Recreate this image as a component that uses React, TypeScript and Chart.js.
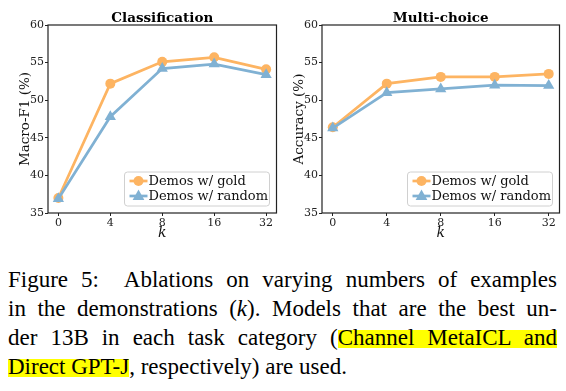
import React, { useEffect, useRef } from "react";
import { Chart, registerables } from "chart.js";

Chart.register(...registerables);

const kLabels = ["0", "4", "8", "16", "32"];
const clsGold = [37.0, 52.2, 55.1, 55.7, 54.1];
const clsRandom = [36.9, 47.8, 54.2, 54.8, 53.4];
const mcGold = [46.4, 52.2, 53.1, 53.1, 53.5];
const mcRandom = [46.3, 51.0, 51.5, 52.0, 51.95];
const yTicks = [35, 40, 45, 50, 55, 60];
const legendLabels = ["Demos w/ gold", "Demos w/ random"];

const ORANGE = "#fdb462";
const BLUE = "#80b1d3";
const SERIF = "'DejaVu Serif', serif";

type PanelProps = {
  title: string;
  yLabel: string;
  gold: number[];
  random: number[];
  yAxisWidth: number;
  yTitlePad: number;
};

function Panel({ title, yLabel, gold, random, yAxisWidth, yTitlePad }: PanelProps) {
  const ref = useRef<HTMLCanvasElement | null>(null);
  useEffect(() => {
    if (!ref.current) return;
    const boxPlugin = {
      id: "boxAndLegend",
      afterDraw(chart: any) {
        const { ctx, chartArea } = chart;
        const { left, right, top, bottom } = chartArea;
        ctx.save();
        // frame
        ctx.strokeStyle = "#222";
        ctx.lineWidth = 1.2;
        ctx.strokeRect(left, top, right - left, bottom - top);
        // title
        ctx.fillStyle = "#000";
        ctx.font = `bold 13.5px ${SERIF}`;
        ctx.textAlign = "center";
        ctx.textBaseline = "alphabetic";
        ctx.fillText(title, (left + right) / 2, 21.7);
        // legend
        const bw = 145, bh = 34;
        const bx = right - 7 - bw;
        const by = bottom - 7 - bh;
        ctx.beginPath();
        const r = 3;
        ctx.moveTo(bx + r, by);
        ctx.arcTo(bx + bw, by, bx + bw, by + bh, r);
        ctx.arcTo(bx + bw, by + bh, bx, by + bh, r);
        ctx.arcTo(bx, by + bh, bx, by, r);
        ctx.arcTo(bx, by, bx + bw, by, r);
        ctx.closePath();
        ctx.fillStyle = "rgba(255,255,255,0.8)";
        ctx.fill();
        ctx.strokeStyle = "#d0d0d0";
        ctx.lineWidth = 1;
        ctx.stroke();
        const rows = [
          { label: legendLabels[0], color: ORANGE, shape: "circle" },
          { label: legendLabels[1], color: BLUE, shape: "triangle" },
        ];
        rows.forEach((row, i) => {
          const cy = by + 9 + i * 15;
          ctx.strokeStyle = row.color;
          ctx.lineWidth = 2.7;
          ctx.beginPath();
          ctx.moveTo(bx + 5, cy);
          ctx.lineTo(bx + 23, cy);
          ctx.stroke();
          ctx.fillStyle = row.color;
          ctx.beginPath();
          const mx = bx + 14;
          if (row.shape === "circle") {
            ctx.arc(mx, cy, 5, 0, Math.PI * 2);
          } else {
            const s = 6.5;
            ctx.moveTo(mx, cy - s);
            ctx.lineTo(mx + s * 0.9, cy + s * 0.6);
            ctx.lineTo(mx - s * 0.9, cy + s * 0.6);
            ctx.closePath();
          }
          ctx.fill();
          ctx.fillStyle = "#111";
          ctx.font = `13px ${SERIF}`;
          ctx.textAlign = "left";
          ctx.textBaseline = "middle";
          ctx.fillText(row.label, bx + 24, cy + 0.5);
        });
        ctx.restore();
      },
    };
    const chart = new Chart(ref.current, {
      type: "line",
      data: {
        datasets: [
          {
            label: legendLabels[0],
            data: gold.map((v, i) => ({ x: i, y: v })),
            borderColor: ORANGE,
            backgroundColor: ORANGE,
            borderWidth: 2.7,
            pointStyle: "circle",
            pointRadius: 5,
            pointBorderWidth: 0,
            order: 1,
          },
          {
            label: legendLabels[1],
            data: random.map((v, i) => ({ x: i, y: v })),
            borderColor: BLUE,
            backgroundColor: BLUE,
            borderWidth: 2.7,
            pointStyle: "triangle",
            pointRadius: 6.5,
            pointBorderWidth: 0,
            order: 0,
          },
        ],
      },
      options: {
        responsive: false,
        animation: false,
        events: [],
        layout: { padding: { left: 0, right: 6, top: 25, bottom: 0 } },
        plugins: { legend: { display: false }, tooltip: { enabled: false }, title: { display: false } },
        scales: {
          x: {
            type: "linear",
            min: -0.2,
            max: 4.2,
            afterBuildTicks: (axis: any) => {
              axis.ticks = kLabels.map((_, i) => ({ value: i }));
            },
            afterFit: (axis: any) => {
              axis.height = 37;
            },
            ticks: {
              callback: (v: any) => kLabels[v as number] ?? "",
              font: { family: SERIF, size: 11 },
              color: "#222",
              padding: 1,
              maxRotation: 0,
            },
            grid: { drawOnChartArea: false, drawTicks: true, tickLength: 3, color: "#222" },
            border: { display: false },
            title: {
              display: true,
              text: "k",
              font: { family: SERIF, size: 14, style: "italic" },
              color: "#111",
              padding: { top: 0, bottom: 8.5 },
            },
          },
          y: {
            min: 35,
            max: 60,
            afterBuildTicks: (axis: any) => {
              axis.ticks = yTicks.map((v) => ({ value: v }));
            },
            afterFit: (axis: any) => {
              axis.width = yAxisWidth;
            },
            ticks: {
              font: { family: SERIF, size: 11 },
              color: "#222",
              padding: 1,
            },
            grid: { drawOnChartArea: false, drawTicks: true, tickLength: 3, color: "#222" },
            border: { display: false },
            title: {
              display: true,
              text: yLabel,
              font: { family: SERIF, size: 13.5 },
              color: "#111",
              padding: { top: yTitlePad, bottom: 0 },
            },
          },
        },
      },
      plugins: [boxPlugin],
    });
    return () => chart.destroy();
  }, [title, yLabel, gold, random, yAxisWidth, yTitlePad]);
  return <canvas ref={ref} width={283} height={250} style={{ display: "block", width: 283, height: 250 }} />;
}

const hl: React.CSSProperties = {
  background: "linear-gradient(to bottom, transparent 21%, #ffff00 21%, #ffff00 92%, transparent 92%)",
};

const lineStyle: React.CSSProperties = {
  textAlign: "justify",
  textAlignLast: "justify",
  height: 29,
};

export default function App() {
  return (
    <div style={{ position: "fixed", left: 0, top: 0, width: 566, height: 391, background: "#fff", overflow: "hidden" }}>
      <div style={{ position: "absolute", left: 0, top: 0 }}>
        <Panel title="Classification" yLabel="Macro-F1 (%)" gold={clsGold} random={clsRandom} yAxisWidth={48} yTitlePad={17} />
      </div>
      <div style={{ position: "absolute", left: 283, top: 0 }}>
        <Panel title="Multi-choice" yLabel="Accuracy (%)" gold={mcGold} random={mcRandom} yAxisWidth={39} yTitlePad={8.5} />
      </div>
      <div
        style={{
          position: "absolute",
          left: 8,
          top: 265,
          width: 549,
          fontFamily: "'Liberation Serif', 'Times New Roman', serif",
          fontSize: 23,
          lineHeight: "29px",
          color: "#000",
        }}
      >
        <div style={lineStyle}>Figure 5:&nbsp; Ablations on varying numbers of examples</div>
        <div style={lineStyle}>
          in the demonstrations (<i>k</i>). Models that are the best un-
        </div>
        <div style={lineStyle}>
          der 13B in each task category (<span style={hl}>Channel MetaICL and</span>
        </div>
        <div style={{ height: 29 }}>
          <span style={hl}>Direct GPT-J</span>, respectively) are used.
        </div>
      </div>
    </div>
  );
}
